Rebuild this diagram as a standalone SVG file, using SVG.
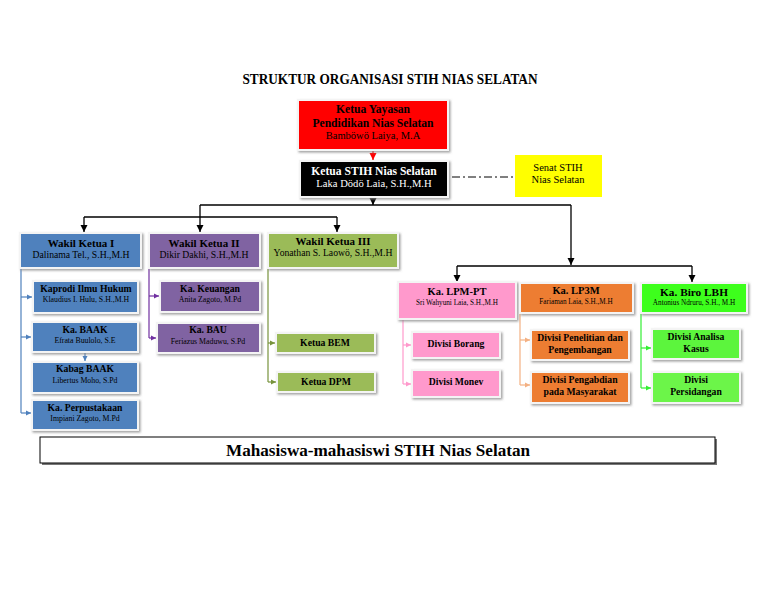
<svg xmlns="http://www.w3.org/2000/svg" width="768" height="594" viewBox="0 0 768 594">
<style>
text{font-family:"Liberation Serif","Times New Roman",serif;text-anchor:middle;fill:#000}
.b{font-weight:bold}
.w{fill:#fff}
.bx{stroke:#f4f4f4;stroke-width:2;filter:url(#sh)}
.t{font-size:11px;font-weight:bold}
.n{font-size:9.7px}
.st{font-size:9.7px;font-weight:bold}
.sn{font-size:7.8px}
.k{stroke:#000;stroke-width:1.3;fill:none}
</style>
<defs>
<filter id="sh" x="-10%" y="-10%" width="130%" height="140%">
<feDropShadow dx="1.5" dy="1.5" stdDeviation="1" flood-color="#888" flood-opacity="0.8"/>
</filter>
<marker id="ak" markerUnits="userSpaceOnUse" markerWidth="8" markerHeight="8" refX="7" refY="4" orient="auto"><path d="M0,0.5 L7,4 L0,7.5Z" fill="#000"/></marker>
<marker id="ar" markerUnits="userSpaceOnUse" markerWidth="8" markerHeight="8" refX="7" refY="4" orient="auto"><path d="M0,0.5 L7,4 L0,7.5Z" fill="#f00"/></marker>
<marker id="abl" markerUnits="userSpaceOnUse" markerWidth="6" markerHeight="6" refX="5" refY="3" orient="auto"><path d="M0,0.5 L5,3 L0,5.5Z" fill="#4F81BD"/></marker>
<marker id="apu" markerUnits="userSpaceOnUse" markerWidth="6" markerHeight="6" refX="5" refY="3" orient="auto"><path d="M0,0.5 L5,3 L0,5.5Z" fill="#7030A0"/></marker>
<marker id="aol" markerUnits="userSpaceOnUse" markerWidth="6" markerHeight="6" refX="5" refY="3" orient="auto"><path d="M0,0.5 L5,3 L0,5.5Z" fill="#77933C"/></marker>
<marker id="api" markerUnits="userSpaceOnUse" markerWidth="6" markerHeight="6" refX="5" refY="3" orient="auto"><path d="M0,0.5 L5,3 L0,5.5Z" fill="#FF99CC"/></marker>
<marker id="aor" markerUnits="userSpaceOnUse" markerWidth="6" markerHeight="6" refX="5" refY="3" orient="auto"><path d="M0,0.5 L5,3 L0,5.5Z" fill="#F4B183"/></marker>
<marker id="agr" markerUnits="userSpaceOnUse" markerWidth="6" markerHeight="6" refX="5" refY="3" orient="auto"><path d="M0,0.5 L5,3 L0,5.5Z" fill="#33EE33"/></marker>
</defs>
<rect width="768" height="594" fill="#fff"/>
<text x="390" y="84" class="b" font-size="15" textLength="295" lengthAdjust="spacingAndGlyphs">STRUKTUR ORGANISASI STIH NIAS SELATAN</text>

<g id="connectors">
<path d="M373,150 V160" stroke="#f00" stroke-width="1.2" marker-end="url(#ar)"/>
<path d="M452,177 H513" stroke="#000" stroke-width="1" stroke-dasharray="8,3,2,3"/>
<path class="k" d="M373,197 V205" marker-end="url(#ak)"/>
<path class="k" d="M200,205 H571"/>
<path class="k" d="M200,205 V232" marker-end="url(#ak)"/>
<path class="k" d="M571,205 V265" marker-end="url(#ak)"/>
<path class="k" d="M457,266 H692"/>
<path class="k" d="M457,266 V282" marker-end="url(#ak)"/>
<path class="k" d="M692,266 V282" marker-end="url(#ak)"/>
<path class="k" d="M84,217 H337"/>
<path class="k" d="M84,217 V232" marker-end="url(#ak)"/>
<path class="k" d="M337,217 V232" marker-end="url(#ak)"/>
<g stroke="#4F81BD" stroke-width="1.2" fill="none">
<path d="M21,268 V413"/>
<path d="M21,297 H32" marker-end="url(#abl)"/>
<path d="M21,337 H31" marker-end="url(#abl)"/>
<path d="M21,413 H31" marker-end="url(#abl)"/>
<path d="M85,352 V361" marker-end="url(#abl)"/>
</g>
<g stroke="#7030A0" stroke-width="1.2" fill="none">
<path d="M149,268 V338"/>
<path d="M149,296 H159" marker-end="url(#apu)"/>
<path d="M149,338 H156" marker-end="url(#apu)"/>
</g>
<g stroke="#77933C" stroke-width="1.2" fill="none">
<path d="M268,268 V382"/>
<path d="M268,343 H275" marker-end="url(#aol)"/>
<path d="M268,382 H276" marker-end="url(#aol)"/>
</g>
<g stroke="#FF99CC" stroke-width="1.2" fill="none">
<path d="M403,319 V384"/>
<path d="M403,345 H411" marker-end="url(#api)"/>
<path d="M403,384 H411" marker-end="url(#api)"/>
</g>
<g stroke="#F4B183" stroke-width="1.2" fill="none">
<path d="M520,313 V385"/>
<path d="M520,340 H530" marker-end="url(#aor)"/>
<path d="M520,385 H530" marker-end="url(#aor)"/>
</g>
<g stroke="#33EE33" stroke-width="1.2" fill="none">
<path d="M641,313 V388"/>
<path d="M641,348 H651" marker-end="url(#agr)"/>
<path d="M641,388 H651" marker-end="url(#agr)"/>
</g>
</g>

<g id="yayasan">
<rect class="bx" x="298" y="100" width="150" height="50" fill="#FF0000"/>
<text x="373" y="113" class="b" font-size="11.6">Ketua Yayasan</text>
<text x="373" y="127" class="b" font-size="11.6">Pendidikan Nias Selatan</text>
<text x="373" y="139" font-size="10.5">Bamböwö Laiya, M.A</text>
</g>
<g id="ketua">
<rect class="bx" x="300" y="161" width="148" height="36" fill="#000"/>
<text x="374" y="175" class="b w" font-size="11.6">Ketua STIH Nias Selatan</text>
<text x="374" y="187" class="w" font-size="10.6">Laka Dödö Laia, S.H.,M.H</text>
</g>
<g id="senat">
<rect x="515" y="155" width="87" height="42" fill="#FFFF00"/>
<text x="558" y="171" font-size="10.5">Senat STIH</text>
<text x="558" y="183" font-size="10.5">Nias Selatan</text>
</g>

<g id="wakil1">
<rect class="bx" x="20" y="233" width="121" height="35" fill="#4F81BD"/>
<text x="81" y="247" class="t">Wakil Ketua I</text>
<text x="81" y="258" class="n">Dalinama Tel., S.H.,M.H</text>
</g>
<g id="wakil2">
<rect class="bx" x="149" y="233" width="111" height="35" fill="#8064A2"/>
<text x="204" y="247" class="t">Wakil Ketua II</text>
<text x="204" y="258" class="n">Dikir Dakhi, S.H.,M.H</text>
</g>
<g id="wakil3">
<rect class="bx" x="268" y="233" width="130" height="35" fill="#9BBB59"/>
<text x="333" y="245" class="t">Wakil Ketua III</text>
<text x="333" y="256" class="n">Yonathan S. Laowö, S.H.,M.H</text>
</g>

<g id="kaprodi">
<rect class="bx" x="33" y="281" width="105" height="32" fill="#4F81BD"/>
<text x="86" y="292" class="st">Kaprodi Ilmu Hukum</text>
<text x="86" y="302" class="sn">Klaudius I. Hulu, S.H.,M.H</text>
</g>
<g id="baak">
<rect class="bx" x="32" y="322" width="106" height="30" fill="#4F81BD"/>
<text x="85" y="333" class="st">Ka. BAAK</text>
<text x="85" y="343" class="sn">Efrata Buulolo, S.E</text>
</g>
<g id="kabag">
<rect class="bx" x="32" y="362" width="106" height="31" fill="#4F81BD"/>
<text x="85" y="372" class="st">Kabag BAAK</text>
<text x="85" y="383" class="sn">Libertus Moho, S.Pd</text>
</g>
<g id="perpus">
<rect class="bx" x="32" y="400" width="106" height="30" fill="#4F81BD"/>
<text x="85" y="411" class="st">Ka. Perpustakaan</text>
<text x="85" y="421" class="sn">Impiani Zagoto, M.Pd</text>
</g>

<g id="keuangan">
<rect class="bx" x="160" y="281" width="100" height="31" fill="#8064A2"/>
<text x="210" y="292" class="st">Ka. Keuangan</text>
<text x="210" y="302" class="sn">Anita Zagoto, M.Pd</text>
</g>
<g id="bau">
<rect class="bx" x="157" y="323" width="103" height="30" fill="#8064A2"/>
<text x="208" y="333" class="st">Ka. BAU</text>
<text x="208" y="344" class="sn">Feriazus Maduwu, S.Pd</text>
</g>

<g id="bem">
<rect class="bx" x="276" y="333" width="99" height="20" fill="#9BBB59"/>
<text x="325" y="346" class="st">Ketua BEM</text>
</g>
<g id="dpm">
<rect class="bx" x="277" y="372" width="98" height="20" fill="#9BBB59"/>
<text x="326" y="385" class="st">Ketua DPM</text>
</g>

<g id="lpm">
<rect class="bx" x="398" y="282" width="118" height="37" fill="#FF99CC"/>
<text x="457" y="295" class="b" font-size="10.5">Ka. LPM-PT</text>
<text x="457" y="305" font-size="7.2">Sri Wahyuni Laia, S.H.,M.H</text>
</g>
<g id="borang">
<rect class="bx" x="412" y="332" width="88" height="26" fill="#FF99CC"/>
<text x="456" y="347" class="st">Divisi Borang</text>
</g>
<g id="monev">
<rect class="bx" x="412" y="370" width="88" height="27" fill="#FF99CC"/>
<text x="456" y="385" class="st">Divisi Monev</text>
</g>

<g id="lp3m">
<rect class="bx" x="520" y="283" width="113" height="30" fill="#ED7D31"/>
<text x="576" y="294" class="b" font-size="10.5">Ka. LP3M</text>
<text x="576" y="304" font-size="7.2">Fariaman  Laia, S.H.,M.H</text>
</g>
<g id="penelitian">
<rect class="bx" x="531" y="330" width="98" height="30" fill="#ED7D31"/>
<text x="580" y="341" class="st">Divisi Penelitian dan</text>
<text x="580" y="353" class="st">Pengembangan</text>
</g>
<g id="pengabdian">
<rect class="bx" x="531" y="372" width="98" height="31" fill="#ED7D31"/>
<text x="580" y="383" class="st">Divisi Pengabdian</text>
<text x="580" y="395" class="st">pada Masyarakat</text>
</g>

<g id="lbh">
<rect class="bx" x="641" y="283" width="106" height="30" fill="#3CFF1E"/>
<text x="694" y="296" class="b" font-size="11.3">Ka. Biro LBH</text>
<text x="694" y="305" font-size="7.2">Antonius Ndruru, S.H., M.H</text>
</g>
<g id="analisa">
<rect class="bx" x="652" y="329" width="88" height="30" fill="#5CF53C"/>
<text x="696" y="340" class="st">Divisi Analisa</text>
<text x="696" y="352" class="st">Kasus</text>
</g>
<g id="persidangan">
<rect class="bx" x="652" y="372" width="88" height="31" fill="#6CF54A"/>
<text x="696" y="383" class="st">Divisi</text>
<text x="696" y="395" class="st">Persidangan</text>
</g>

<g id="mahasiswa">
<rect x="42" y="439" width="675" height="26" fill="#777"/>
<rect x="40" y="437" width="675" height="26" fill="#fff" stroke="#000" stroke-width="1"/>
<text x="378" y="456" class="b" font-size="16" textLength="304" lengthAdjust="spacingAndGlyphs">Mahasiswa-mahasiswi STIH Nias Selatan</text>
</g>
</svg>
